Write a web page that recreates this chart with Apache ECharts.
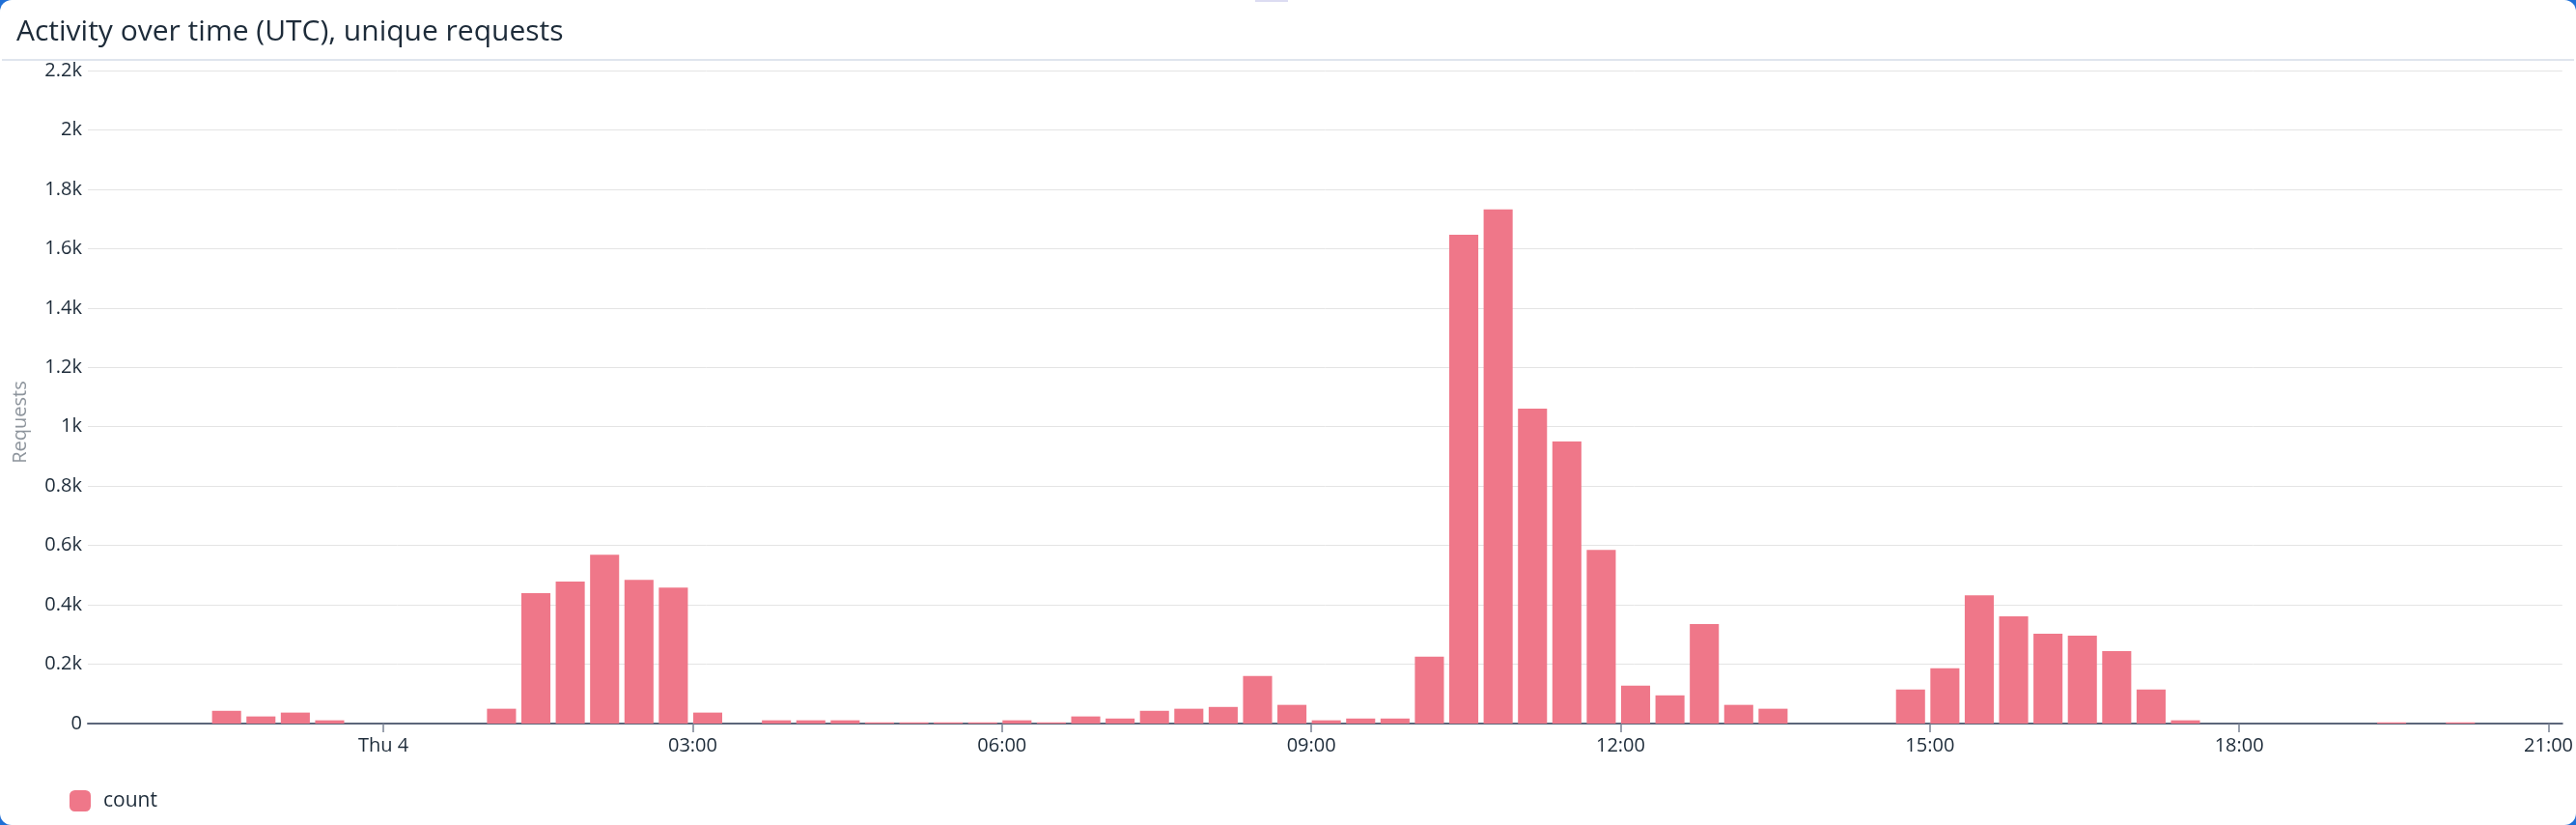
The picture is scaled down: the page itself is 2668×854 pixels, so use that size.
<!DOCTYPE html>
<html><head><meta charset="utf-8">
<script src="https://cdn.jsdelivr.net/npm/echarts@6/dist/echarts.min.js"></script>
<style>
html,body{margin:0;padding:0;width:2668px;height:854px;overflow:hidden;background:#fff;}
#frame{position:absolute;left:0;top:0;width:2668px;height:854px;background:#1f6fd6;}
#card{position:absolute;left:0;top:0;width:2668px;height:854px;background:#fff;border-radius:12px;}
#tab{position:absolute;left:1300px;top:0;width:34px;height:2px;background:#dcdcf2;}
#sep{position:absolute;left:2px;top:61px;width:2664px;height:2px;background:#dfe5ee;}
#chart{position:absolute;left:0;top:0;width:2668px;height:854px;}
</style></head><body>
<div id="frame"></div><div id="card"></div><div id="tab"></div><div id="sep"></div>
<div id="chart"></div>
<script>
// ---- data ----
const titleText = 'Activity over time (UTC), unique requests';
const seriesName = 'count';
const yAxisName = 'Requests';
const firstBucket = Date.UTC(2024, 0, 3, 22, 20);   // Wed 3, 22:20 UTC (first 20-min bucket)
const bucketMinutes = 20;
const counts = [43,24,37,11,0,0,0,0,50,439,478,569,484,458,37,0,11,11,11,4,4,4,4,11,4,24,17,43,50,56,160,63,11,17,17,225,1647,1732,1061,950,585,128,95,335,63,50,0,0,0,115,186,432,361,303,296,244,115,11,0,0,0,0,0,4,0,4];
const axisStart = Date.UTC(2024, 0, 3, 21, 8);
const axisEnd = Date.UTC(2024, 0, 4, 21, 8);
const xTicks = ['2024-01-04T00:00:00Z','2024-01-04T03:00:00Z','2024-01-04T06:00:00Z','2024-01-04T09:00:00Z',
                '2024-01-04T12:00:00Z','2024-01-04T15:00:00Z','2024-01-04T18:00:00Z','2024-01-04T21:00:00Z'];
const yMax = 2200, yStep = 200;
const dayNames = ['Sun','Mon','Tue','Wed','Thu','Fri','Sat'];
const barColor = '#ef7789';

const bucketMs = bucketMinutes * 60000;
const points = counts.map((c, i) => [firstBucket + i * bucketMs, c]);
const tickValues = xTicks.map(s => Date.parse(s));
const pad = n => (n < 10 ? '0' : '') + n;

const chart = echarts.init(document.getElementById('chart'));
chart.setOption({
  animation: false,
  textStyle: { fontFamily: 'Open Sans' },
  title: {
    text: titleText, left: 17, top: 18, padding: 0,
    textStyle: { fontSize: 30, fontWeight: 'normal', color: '#1d2b39', fontFamily: 'Open Sans' }
  },
  legend: {
    left: 72, top: 818, padding: 0, icon: 'roundRect', itemWidth: 22, itemHeight: 22,
    textStyle: { fontSize: 21, color: '#1d2b39', padding: [0, 0, 0, 8] },
    data: [seriesName]
  },
  grid: { left: 91, right: 12, top: 73, bottom: 105, containLabel: false },
  xAxis: {
    type: 'value', min: axisStart, max: axisEnd, scale: true,
    axisLine: { lineStyle: { color: '#5c667a', width: 2 } },
    axisTick: { show: true, length: 9, customValues: tickValues, lineStyle: { color: '#7a8394', width: 1.5 } },
    splitLine: { show: false },
    axisLabel: {
      fontSize: 20, color: '#1d2b39', margin: 13, customValues: tickValues,
      formatter: v => { const d = new Date(v); const h = d.getUTCHours(), m = d.getUTCMinutes();
        if (h === 0 && m === 0) return dayNames[d.getUTCDay()] + ' ' + d.getUTCDate();
        return pad(h) + ':' + pad(m); }
    }
  },
  yAxis: {
    type: 'value', min: 0, max: yMax, interval: yStep,
    name: yAxisName, nameLocation: 'middle', nameGap: 60,
    nameTextStyle: { fontSize: 20, color: '#8d949c', padding: [0, 52, 0, 0] },
    axisLine: { show: false }, axisTick: { show: false },
    splitLine: { lineStyle: { color: '#e4e4e4', width: 1 } },
    axisLabel: { fontSize: 20, color: '#1d2b39', margin: 6,
      formatter: v => v === 0 ? '0' : (v / 1000) + 'k' }
  },
  series: [{
    name: seriesName, type: 'custom', data: points,
    encode: { x: 0, y: 1 },
    itemStyle: { color: barColor },
    renderItem: (params, api) => {
      const start = api.value(0), v = api.value(1);
      const base = api.coord([start, 0]);
      const top = api.coord([start, v]);
      const next = api.coord([start + bucketMs, 0]);
      const w = (next[0] - base[0]) * 0.845;
      return { type: 'rect',
        shape: { x: base[0] + 0.5, y: top[1], width: w, height: base[1] - top[1] },
        style: { fill: barColor } };
    }
  }]
});
</script>
</body></html>
